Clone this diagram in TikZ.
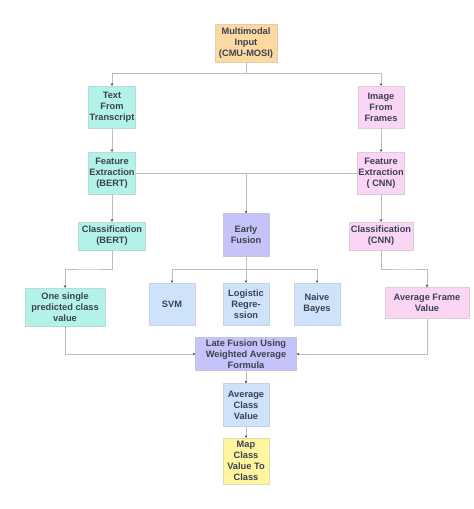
\documentclass[tikz,border=0pt]{standalone}
\usepackage{fontspec}
\setmainfont{Liberation Sans}
\usetikzlibrary{arrows.meta}
\definecolor{inorange}{HTML}{FBD9A0}
\definecolor{txtteal}{HTML}{B2F2E8}
\definecolor{imgpink}{HTML}{FBD5F4}
\definecolor{fuselav}{HTML}{C5C3F7}
\definecolor{clfblue}{HTML}{CFE2FB}
\definecolor{mapyellow}{HTML}{FEF59E}
\definecolor{inktext}{HTML}{3C4150}
\definecolor{wiregray}{HTML}{BDBDC2}
\tikzset{
  block/.style={draw=#1!80!black!60, fill=#1, line width=0.6pt, align=center,
    inner sep=1pt, text=inktext, font=\fontsize{9.3}{11}\selectfont\bfseries},
  wire/.style={draw=wiregray, line width=0.7pt},
  flow/.style={wire, -{Stealth[length=2.5pt,width=2.5pt,color=inktext]}}
}
\begin{document}
\begin{tikzpicture}[x=1bp,y=-1bp]
    \useasboundingbox (0,0) rectangle (474,509);
    % input
    \node[block=inorange, minimum width=62, minimum height=38] (input) at (246,43) {Multimodal\\Input\\(CMU-MOSI)};
    % text branch
    \node[block=txtteal, minimum width=46, minimum height=42] (text) at (112,107) {Text\\From\\Transcript};
    \node[block=txtteal, minimum width=46, minimum height=42] (bert) at (112,173) {Feature\\Extraction\\(BERT)};
    \node[block=txtteal, minimum width=67, minimum height=28] (clsbert) at (112,236) {Classification\\(BERT)};
    \node[block=txtteal, minimum width=80, minimum height=38] (single) at (65,307) {One single\\predicted class\\value};
    % image branch
    \node[block=imgpink, minimum width=46, minimum height=42] (image) at (381,107) {Image\\From\\Frames};
    \node[block=imgpink, minimum width=46, minimum height=42] (cnn) at (381,173) {Feature\\Extraction\\( CNN)};
    \node[block=imgpink, minimum width=64, minimum height=28] (clscnn) at (381,236) {Classification\\(CNN)};
    \node[block=imgpink, minimum width=84, minimum height=31] (avgframe) at (427,303) {Average Frame\\Value};
    % early fusion
    \node[block=fuselav, minimum width=46, minimum height=43] (early) at (246,235) {Early\\Fusion};
    \node[block=clfblue, minimum width=46, minimum height=42] (svm) at (172,304) {SVM};
    \node[block=clfblue, minimum width=46, minimum height=42] (logreg) at (246,304) {Logistic\\Regre-\\ssion};
    \node[block=clfblue, minimum width=46, minimum height=42] (bayes) at (317,304) {Naive\\Bayes};
    % late fusion
    \node[block=fuselav, minimum width=101, minimum height=33] (late) at (246,354) {Late Fusion Using\\Weighted Average\\Formula};
    \node[block=clfblue, minimum width=46, minimum height=43] (avgclass) at (246,405) {Average\\Class\\Value};
    \node[block=mapyellow, minimum width=46, minimum height=46] (map) at (246,461) {Map\\Class\\Value To\\Class};
    % connectors
    \coordinate (split) at (246,73);
    \draw[wire] (input) -- (split);
    \draw[flow] (split) -| (text);
    \draw[flow] (split) -| (image);
    \draw[flow] (text) -- (bert);
    \draw[flow] (image) -- (cnn);
    \draw[wire] (bert) -- (cnn);
    \draw[flow] (early |- bert) -- (early);
    \draw[flow] (bert) -- (clsbert);
    \draw[flow] (cnn) -- (clscnn);
    \coordinate (lowbar) at (246,269);
    \draw[flow] (clsbert) |- (lowbar -| 88,0) -| (single);
    \draw[flow] (clscnn) |- (lowbar -| 404,0) -| (avgframe);
    \draw[flow] (early) -- (logreg);
    \draw[flow] (lowbar) -| (svm);
    \draw[flow] (lowbar) -| (bayes);
    \draw[flow] (single) |- (late);
    \draw[flow] (avgframe) |- (late);
    \draw[flow] (late) -- (avgclass);
    \draw[flow] (avgclass) -- (map);
\end{tikzpicture}
\end{document}
